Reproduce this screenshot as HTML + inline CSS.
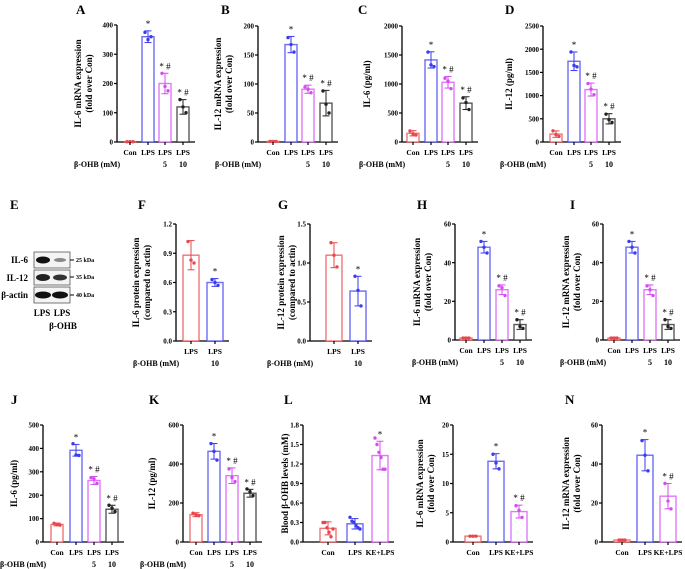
<!DOCTYPE html>
<html><head><meta charset="utf-8">
<style>
body{margin:0;background:#fff;}
svg{display:block;font-family:"Liberation Serif",serif;font-weight:bold;}
</style></head>
<body>
<svg id="fig" width="685" height="569" viewBox="0 0 685 569" xmlns="http://www.w3.org/2000/svg">
<g>
<text x="10" y="209" font-size="13">E</text>
<rect x="34" y="252" width="36" height="16" fill="#f4f4f4" stroke="#555" stroke-width="0.8"/>
<rect x="34" y="270" width="36" height="15" fill="#f4f4f4" stroke="#555" stroke-width="0.8"/>
<rect x="34" y="287" width="36" height="16" fill="#f4f4f4" stroke="#555" stroke-width="0.8"/>
<ellipse cx="43" cy="260" rx="7" ry="3.5" fill="#111"/><ellipse cx="60" cy="260" rx="6" ry="2" fill="#888"/>
<ellipse cx="43" cy="277.5" rx="7" ry="3.5" fill="#222"/><ellipse cx="60" cy="277.5" rx="7" ry="3" fill="#333"/>
<ellipse cx="43" cy="295" rx="8" ry="3.5" fill="#111"/><ellipse cx="60" cy="295" rx="8" ry="3.5" fill="#111"/>
<text x="28" y="263" font-size="9" text-anchor="end">IL-6</text>
<text x="28" y="281" font-size="9" text-anchor="end">IL-12</text>
<text x="28" y="298" font-size="9" text-anchor="end">β-actin</text>
<line x1="70" y1="260" x2="74" y2="260" stroke="#000"/><text x="76" y="262" font-size="6">25 kDa</text>
<line x1="70" y1="277" x2="74" y2="277" stroke="#000"/><text x="76" y="279" font-size="6">35 kDa</text>
<line x1="70" y1="295" x2="74" y2="295" stroke="#000"/><text x="76" y="297" font-size="6">40 kDa</text>
<text x="42" y="316" font-size="9" text-anchor="middle">LPS</text>
<text x="62" y="316" font-size="9" text-anchor="middle">LPS</text>
<text x="63" y="329" font-size="9" text-anchor="middle">β-OHB</text>
</g>
</svg>
<script>
// ---- data arrays ----
const catsDose=["Con","LPS","LPS","LPS"];
const doseVals=["","","5","10"];
const catsF=["LPS","LPS"];
const doseF=["","10"];
const catsKE=["Con","LPS","KE+LPS"];

const A_means=[1,360,200,120]; const A_errs=[1,20,35,25];
const A_pts=[[1,1,1],[375,350,360],[235,190,175],[145,120,100]];
const A_ann=["","*","* #","* #"]; const A_ticks=[0,100,200,300,400];

const B_means=[1,168,91,67]; const B_errs=[1,14,7,22];
const B_pts=[[1,1,1],[180,168,155],[95,91,85],[88,65,50]];
const B_ann=["","*","* #","* #"]; const B_ticks=[0,50,100,150,200];

const C_means=[150,1415,1030,670]; const C_errs=[45,140,100,110];
const C_pts=[[190,140,120],[1550,1330,1300],[1100,1050,920],[760,680,560]];
const C_ann=["","*","* #","* #"]; const C_ticks=[0,500,1000,1500,2000];

const D_means=[170,1740,1130,500]; const D_errs=[70,200,140,110];
const D_pts=[[240,160,120],[1940,1650,1620],[1260,1140,1020],[600,480,420]];
const D_ann=["","*","* #","* #"]; const D_ticks=[0,500,1000,1500,2000,2500];

const F_means=[0.88,0.60]; const F_errs=[0.15,0.04];
const F_pts=[[1.02,0.83,0.80],[0.63,0.60,0.57]];
const F_ann=["","*"]; const F_ticks=[0,0.3,0.6,0.9,1.2];

const G_means=[1.10,0.64]; const G_errs=[0.16,0.19];
const G_pts=[[1.26,1.10,0.95],[0.83,0.65,0.45]];
const G_ann=["","*"]; const G_ticks=[0,0.5,1.0,1.5];

const H_means=[1,48,26,8]; const H_errs=[0.5,3,2.5,2.5];
const H_pts=[[1,1,1],[51,48,45],[28,27,23],[10.5,7,6]];
const H_ann=["","*","* #","* #"]; const H_ticks=[0,20,40,60];

const I_means=[1,48,26,8]; const I_errs=[0.5,3,2.5,2.5];
const I_pts=[[1,1,1],[51,48,45],[28,26,23],[10.5,7,6]];
const I_ann=["","*","* #","* #"]; const I_ticks=[0,20,40,60];

const J_means=[75,392,263,140]; const J_errs=[6,25,17,17];
const J_pts=[[80,75,72],[420,372,370],[275,270,250],[157,145,130]];
const J_ann=["","*","* #","* #"]; const J_ticks=[0,100,200,300,400,500];

const K_means=[140,465,340,250]; const K_errs=[10,40,40,20];
const K_pts=[[148,140,135],[505,465,420],[375,330,310],[272,258,238]];
const K_ann=["","*","* #","* #"]; const K_ticks=[0,200,400,600];

const L_means=[0.21,0.28,1.33]; const L_errs=[0.1,0.08,0.22];
const L_pts=[[0.30,0.30,0.22,0.15,0.08,0.20],[0.38,0.32,0.30,0.25,0.22,0.20],[1.60,1.50,1.38,1.30,1.12,1.12]];
const L_ann=["","","*"]; const L_ticks=[0,0.3,0.6,0.9,1.2,1.5,1.8];

const M_means=[1,13.8,5.2]; const M_errs=[0.1,1.3,1.1];
const M_pts=[[1,1,1],[15,13.5,12.5],[6.2,5.4,4.2]];
const M_ann=["","*","* #"]; const M_ticks=[0,5,10,15,20];

const N_means=[1,44.5,23.5]; const N_errs=[0.5,8,6.5];
const N_pts=[[1,1,1],[52,44.5,36.5],[30,21,17]];
const N_ann=["","*","* #"]; const N_ticks=[0,20,40,60];

// ---- layout (not data) ----
const COL4=["#e8474c","#3b3bf2","#d54cf2","#222"];
const COL2=["#e8474c","#3b3bf2"];
const COLKE=["#e8474c","#3b3bf2","#d54cf2"];
const panels=[
 {L:"A",lx:76,ly:14,ax:117,top:25,bot:142,cx:[130,148,165,183],bw:12,cats:catsDose,dose:doseVals,col:COL4,m:A_means,e:A_errs,p:A_pts,a:A_ann,t:A_ticks,fmt:0,yt:["IL-6 mRNA expression","(fold over Con)"],ytx:78},
 {L:"B",lx:221,ly:14,ax:258,top:26,bot:142,cx:[273,291,308,326],bw:12,cats:catsDose,dose:doseVals,col:COL4,m:B_means,e:B_errs,p:B_pts,a:B_ann,t:B_ticks,fmt:0,yt:["IL-12 mRNA expression","(fold over Con)"],ytx:218},
 {L:"C",lx:358,ly:14,ax:402,top:26,bot:142,cx:[413,431,448,466],bw:12,cats:catsDose,dose:doseVals,col:COL4,m:C_means,e:C_errs,p:C_pts,a:C_ann,t:C_ticks,fmt:0,yt:["IL-6 (pg/ml)"],ytx:367},
 {L:"D",lx:505,ly:14,ax:543,top:26,bot:142,cx:[556,574,591,609],bw:12,cats:catsDose,dose:doseVals,col:COL4,m:D_means,e:D_errs,p:D_pts,a:D_ann,t:D_ticks,fmt:0,yt:["IL-12 (pg/ml)"],ytx:509},
 {L:"F",lx:138,ly:209,ax:176,top:224,bot:341,cx:[191,215],bw:16,cats:catsF,dose:doseF,col:COL2,m:F_means,e:F_errs,p:F_pts,a:F_ann,t:F_ticks,fmt:1,yt:["IL-6 protein expression","(compared to actin)"],ytx:136},
 {L:"G",lx:278,ly:209,ax:310,top:224,bot:341,cx:[334,358],bw:16,cats:catsF,dose:doseF,col:COL2,m:G_means,e:G_errs,p:G_pts,a:G_ann,t:G_ticks,fmt:1,yt:["IL-12 protein expression","(compared to actin)"],ytx:281},
 {L:"H",lx:417,ly:209,ax:455,top:224,bot:340,cx:[466,484,502,520],bw:12,cats:catsDose,dose:doseVals,col:COL4,m:H_means,e:H_errs,p:H_pts,a:H_ann,t:H_ticks,fmt:0,yt:["IL-6 mRNA expression","(fold over Con)"],ytx:417},
 {L:"I",lx:570,ly:209,ax:603,top:224,bot:340,cx:[614,632,650,668],bw:12,cats:catsDose,dose:doseVals,col:COL4,m:I_means,e:I_errs,p:I_pts,a:I_ann,t:I_ticks,fmt:0,yt:["IL-12 mRNA expression","(fold over Con)"],ytx:566},
 {L:"J",lx:11,ly:404,ax:43,top:425,bot:542,cx:[57,76,94,112],bw:12,cats:catsDose,dose:doseVals,col:COL4,m:J_means,e:J_errs,p:J_pts,a:J_ann,t:J_ticks,fmt:0,yt:["IL-6 (pg/ml)"],ytx:14},
 {L:"K",lx:149,ly:404,ax:183,top:425,bot:542,cx:[196,214,232,250],bw:12,cats:catsDose,dose:doseVals,col:COL4,m:K_means,e:K_errs,p:K_pts,a:K_ann,t:K_ticks,fmt:0,yt:["IL-12 (pg/ml)"],ytx:152},
 {L:"L",lx:284,ly:404,ax:303,top:425,bot:542,cx:[328,355,380],bw:16,cats:catsKE,dose:null,col:COLKE,m:L_means,e:L_errs,p:L_pts,a:L_ann,t:L_ticks,fmt:1,yt:["Blood β-OHB levels (mM)"],ytx:285},
 {L:"M",lx:419,ly:404,ax:453,top:425,bot:542,cx:[473,496,519],bw:16,cats:catsKE,dose:null,col:COLKE,m:M_means,e:M_errs,p:M_pts,a:M_ann,t:M_ticks,fmt:0,yt:["IL-6 mRNA expression","(fold over Con)"],ytx:420},
 {L:"N",lx:565,ly:404,ax:602,top:425,bot:542,cx:[622,645,668],bw:16,cats:catsKE,dose:null,col:COLKE,m:N_means,e:N_errs,p:N_pts,a:N_ann,t:N_ticks,fmt:0,yt:["IL-12 mRNA expression","(fold over Con)"],ytx:566}
];
const NS="http://www.w3.org/2000/svg";
const svg=document.getElementById('fig');
function mk(tag,at,parent,txt){const el=document.createElementNS(NS,tag);for(const k in at)el.setAttribute(k,at[k]);if(txt!==undefined)el.textContent=txt;parent.appendChild(el);return el;}
panels.forEach(P=>{
 const g=mk('g',{},svg);
 
 
 const ymax=P.t[P.t.length-1];
 const y=v=>P.bot-(v/ymax)*(P.bot-P.top);
 const lt=mk('text',{x:P.lx,y:P.ly,'font-size':13},g,P.L);
 
 
 const xend=P.cx[P.cx.length-1]+P.bw/2+6;
 const ya=mk('line',{x1:P.ax,y1:P.top,x2:P.ax,y2:P.bot,stroke:'#000','stroke-width':1.3},g);
 
 
 const xa=mk('line',{x1:P.ax,y1:P.bot,x2:xend,y2:P.bot,stroke:'#000','stroke-width':1.3},g);
 
 
 P.t.forEach(tv=>{
  mk('line',{x1:P.ax-3,y1:y(tv),x2:P.ax,y2:y(tv),stroke:'#000','stroke-width':1.2},g);
  const tl=mk('text',{x:P.ax-4,y:y(tv)+2.6,'font-size':7,'text-anchor':'end'},g,P.fmt?tv.toFixed(1):String(tv));
  
  
 });
 const cy=(P.top+P.bot)/2;
 P.yt.forEach((s,i)=>{
  const tx=P.ytx+i*11;
  const yt=mk('text',{x:tx,y:cy,'font-size':9,'text-anchor':'middle',transform:`rotate(-90 ${tx} ${cy})`,dy:3},g,s);
  
  
 });
 P.m.forEach((v,i)=>{
  const c=P.col[i],x=P.cx[i];
  const b=mk('rect',{x:x-P.bw/2,y:y(v),width:P.bw,height:Math.max(P.bot-y(v),0.5),fill:'#fff',stroke:c,'stroke-width':1.4,'stroke-opacity':0.75},g);
  
  
  const e=P.e[i];
  mk('line',{x1:x,y1:y(v+e),x2:x,y2:y(Math.max(v-e,0)),stroke:c,'stroke-width':1},g);
  mk('line',{x1:x-3.5,y1:y(v+e),x2:x+3.5,y2:y(v+e),stroke:c,'stroke-width':1},g);
  mk('line',{x1:x-3.5,y1:y(Math.max(v-e,0)),x2:x+3.5,y2:y(Math.max(v-e,0)),stroke:c,'stroke-width':1},g);
  const n=P.p[i].length;
  P.p[i].forEach((pv,j)=>{
   const off=(j-(n-1)/2)*(n>3?2:3);
   const pt=mk('circle',{cx:x+off,cy:y(pv),r:1.7,fill:c},g);
   
   
  });
  if(P.a[i]){
   const an=mk('text',{x:x,y:y(v+e)-4,'font-size':9,'text-anchor':'middle','font-weight':'normal'},g,P.a[i]);
   
   
  }
  mk('line',{x1:x,y1:P.bot,x2:x,y2:P.bot+3,stroke:'#000','stroke-width':1.2},g);
  const cl=mk('text',{x:x,y:P.bot+13,'font-size':7.5,'text-anchor':'middle'},g,P.cats[i]);
  
  
  if(P.dose&&P.dose[i]){
   const dl=mk('text',{x:x,y:P.bot+25,'font-size':8,'text-anchor':'middle'},g,P.dose[i]);
   
   
  }
 });
 if(P.dose){
  const bl=mk('text',{x:P.ax-43,y:P.bot+25,'font-size':8},g,'β-OHB (mM)');
  
  
 }
});
</script>
</body></html>
